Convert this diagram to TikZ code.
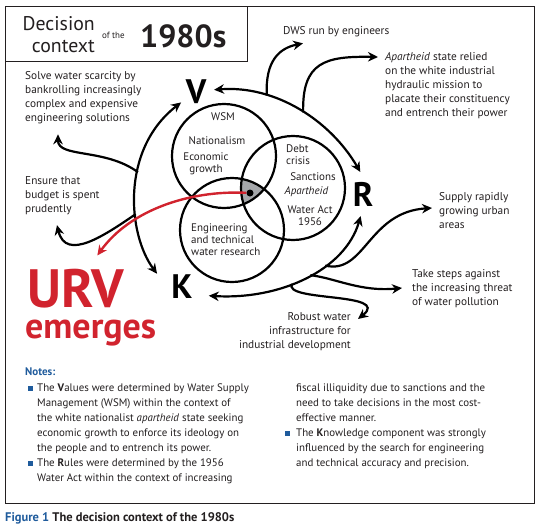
\documentclass[tikz,border=0pt]{standalone}
\usepackage{fontspec}
\setmainfont{PT Sans}
\usetikzlibrary{arrows.meta,positioning,calc}
\definecolor{InkMain}{HTML}{231F20}
\definecolor{NoteBlue}{HTML}{1F5B9C}
\definecolor{UrvRed}{HTML}{D1232E}
\definecolor{CoreGrey}{HTML}{A5A7AA}
\tikzset{>={Stealth[length=10pt,width=9.5pt]},every node/.style={font=\fontsize{11.3}{14}\selectfont,
 text=InkMain,inner sep=0pt},boxline/.style={draw=InkMain,line width=.9pt},
 ring/.style={draw=black,line width=2.2pt},cyclearc/.style={draw=black,line width=2.2pt,<->},
 flow/.style={draw=black,line width=2.2pt,->},letter/.style={circle,text=black,
 font=\fontsize{34}{34}\selectfont\bfseries},inlab/.style={font=\fontsize{11}{12}\selectfont,
 align=center},sidetext/.style={align=left,anchor=north west},notetext/.style={anchor=north west,
 font=\fontsize{10.9}{15}\selectfont,align=left},bullet/.style={fill=NoteBlue,minimum size=5pt}}

\begin{document}
\begin{tikzpicture}[x=1pt,y=-1pt]
\useasboundingbox (0,0) rectangle (549,530);
\draw[boxline] (5,6) rectangle (534,503);
\draw[boxline] (5,6) rectangle (247,61);
\node[anchor=base east,font=\fontsize{19.8}{22}\selectfont] (dec) at (95,30) {Decision};
\node[anchor=base east,font=\fontsize{19.8}{22}\selectfont] (ctx) at (95,52) {context};
\node[anchor=base west,font=\fontsize{9}{10}\selectfont] (ofthe) at (102,38) {of the};
\node[anchor=base west,font=\fontsize{32}{32}\selectfont\bfseries] (yr) at (140,47) {1980s};
% the three circles and their common core
\coordinate (pV) at (224,156);
\coordinate (pR) at (293,188);
\coordinate (pK) at (232,230);
\begin{scope}
\clip (pV) circle[radius=52pt];
\clip (pR) circle[radius=52pt];
\fill[CoreGrey] (pK) circle[radius=52pt];
\end{scope}
\foreach \c in {V,R,K}
 \node[ring,circle,minimum size=104pt] (c\c) at (p\c) {};
\node[circle,fill=black,minimum size=7pt] (dot) at (250,193) {};
\node[inlab] (wsm) at (223,117) {WSM};
\node[inlab] (nat) at (217,141) {Nationalism};
\node[inlab] (eco) at (206,164) {Economic\\growth};
\node[inlab,anchor=north west,align=left] (debt) at (286,145) {Debt\\crisis};
\node[inlab] (sanc) at (313,177) {Sanctions};
\node[inlab] (apt) at (306.5,192) {\textit{Apartheid}};
\node[inlab] (wact) at (310,216) {Water Act\\1956};
\node[inlab,anchor=north west,align=left] (eng) at (191,224) {Engineering\\and technical\\water research};
\node[letter,minimum size=36pt] (V) at (196,92) {V};
\node[letter,minimum size=44pt] (R) at (363,194) {R};
\node[letter,minimum size=56pt] (K) at (182,287) {K};
\draw[cyclearc] (K.152) .. controls (128,235) and (120,150) .. (V.215)
 coordinate[pos=.38] (l1) coordinate[pos=.6] (l2);
\draw[cyclearc] (V.7) .. controls (275,85) and (330,120) .. (R.97)
 coordinate[pos=.3] (t1) coordinate[pos=.53] (t2);
\draw[cyclearc] (K.342) .. controls (280,300) and (345,270) .. (R.264)
 coordinate[pos=.42] (u1) coordinate[pos=.53] (u2) coordinate[pos=.63] (u3);
\node[sidetext] (solve) at (25,71.5) {Solve water scarcity by\\bankrolling increasingly\\complex and expensive\\engineering solutions};
\node[sidetext] (ensure) at (25,176.5) {Ensure that\\budget is spent\\prudently};
\node[sidetext] (dws) at (283,26.5) {DWS run by engineers};
\node[sidetext] (apart) at (385,52.5) {\textit{Apartheid} state relied\\on the white industrial\\hydraulic mission to\\placate their constituency\\and entrench their power};
\node[sidetext] (supply) at (439,192.5) {Supply rapidly\\growing urban\\areas};
\node[sidetext] (steps) at (412,269.5) {Take steps against\\the increasing threat\\of water pollution};
\node[sidetext,anchor=north east,align=right] (robust) at (351,312.5) {Robust water\\infrastructure for\\industrial development};
\draw[flow] (l2) .. controls (105,148) and (58,158) .. ([xshift=33pt,yshift=-10pt]solve.south west);
\draw[flow] (l1) .. controls (105,235) and (66,262) .. ([xshift=32pt,yshift=-10pt]ensure.south west);
\draw[flow] (t1) .. controls (265,60) and (280,48) .. ([xshift=20pt,yshift=-6pt]dws.south west);
\draw[flow] (t2) .. controls (302,62) and (325,56) .. ([xshift=-7pt,yshift=-4.5pt]apart.north west);
\draw[flow] (u3) .. controls (365,275) and (368,212) .. ([xshift=-7pt,yshift=-15.5pt]supply.north west);
\draw[flow] (u2) .. controls (335,278) and (360,292) .. ([xshift=-10pt,yshift=-18.5pt]steps.north west);
\draw[flow] (u1) .. controls (282,302) and (392,292) .. ([xshift=7pt,yshift=-6.5pt]robust.north east);
\node[anchor=base west,text=UrvRed,font=\fontsize{54}{54}\selectfont\bfseries] (urv) at (27,307) {URV};
\node[anchor=base west,text=UrvRed,font=\fontsize{36}{36}\selectfont\bfseries] (emg) at (25,338) {emerges};
\draw[UrvRed,line width=2.4pt,->] (dot) .. controls (190,190) and (130,210) .. ([xshift=22pt,yshift=13pt]urv.north);
% notes
\node[anchor=base west,text=NoteBlue,font=\fontsize{11}{13}\selectfont\bfseries] (nh) at (25,375) {Notes:};
\foreach \bx/\by [count=\i] in {30/388,30/463,287/433}
 \node[bullet] (bul\i) at (\bx,\by) {};
\node[notetext] (noteA) at (37,383.5) {The \textbf{V}alues were determined by Water Supply\\Management (WSM) within the context of\\the white nationalist \textit{apartheid} state seeking\\economic growth to enforce its ideology on\\the people and to entrench its power.\\The \textbf{R}ules were determined by the 1956\\Water Act within the context of increasing};
\node[notetext] (noteB) at (296,383.5) {fiscal illiquidity due to sanctions and the\\need to take decisions in the most cost-\\effective manner.\\The \textbf{K}nowledge component was strongly\\influenced by the search for engineering\\and technical accuracy and precision.};
\node[anchor=base west,font=\fontsize{12.5}{14}\selectfont\bfseries] (cap) at (5,521) {\textcolor{NoteBlue}{Figure 1} The decision context of the 1980s};
\end{tikzpicture}
\end{document}
